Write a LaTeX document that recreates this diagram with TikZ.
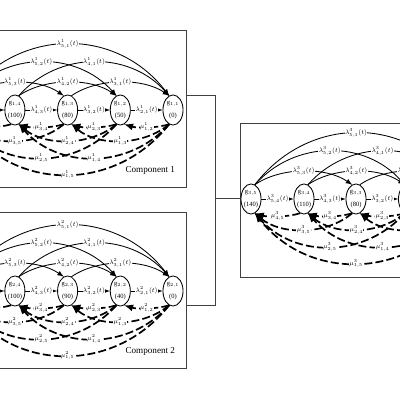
\documentclass[tikz,border=0pt]{standalone}
\usepackage{fontspec}
\setmainfont{Liberation Serif}
\usetikzlibrary{shapes.geometric}

\tikzset{
  state/.style={draw, ellipse, line width=0.6pt, minimum width=0.76cm, minimum height=1.14cm,
    inner sep=0pt, inner xsep=-1.5pt, align=center, scale=0.66, font=\fontsize{7}{8}\selectfont},
  lbl/.style={fill=white, inner sep=0.4pt, scale=0.66, font=\fontsize{7}{8}\selectfont},
  lam/.style={-latex, line width=0.6pt},
  mu/.style={-latex, line width=1.2pt, dash pattern=on 2mm off 0.8mm},
  box/.style={draw=black!75, line width=0.7pt},
}

\begin{document}
\begin{tikzpicture}[x=0.025cm, y=-0.025cm]
  \useasboundingbox (0,0) rectangle (400,400);
  \clip (0,0) rectangle (400,400);
  \fill[white] (0,0) rectangle (400,400);

  % component boxes and the links between them
  \draw[box] (-80,30) rectangle (186,187);
  \draw[box] (-80,212) rectangle (186,368);
  \draw[box] (240,123) rectangle (500,277);
  \coordinate (out1) at (186,95);
  \coordinate (out2) at (186,305);
  \coordinate (hub) at (215,198);
  \coordinate (in3) at (240,198);
  \draw[box] (out1) -| (hub);
  \draw[box] (out2) -| (hub);
  \draw[box] (hub) -- (in3);

  \node[anchor=base east, font=\fontsize{6.5}{8}\selectfont] (name1) at (180,172) {Component 1};
  \node[anchor=base east, font=\fontsize{6.5}{8}\selectfont] (name2) at (180,353) {Component 2};

  % component 1
  \node[state] (g15) at (-37.8,110) {g$_{1,5}$};
  \node[state] (g14) at (14.9,110) {g$_{1,4}$\\[5pt](100)};
  \node[state] (g13) at (67.6,110) {g$_{1,3}$\\[5pt](80)};
  \node[state] (g12) at (120.3,110) {g$_{1,2}$\\[5pt](50)};
  \node[state] (g11) at (173,110) {g$_{1,1}$\\[5pt](0)};
  % component 2
  \node[state] (g25) at (-37.8,291) {g$_{2,5}$};
  \node[state] (g24) at (14.9,291) {g$_{2,4}$\\[5pt](100)};
  \node[state] (g23) at (67.6,291) {g$_{2,3}$\\[5pt](90)};
  \node[state] (g22) at (120.3,291) {g$_{2,2}$\\[5pt](40)};
  \node[state] (g21) at (173,291) {g$_{2,1}$\\[5pt](0)};
  % component 3
  \node[state] (g35) at (251,199) {g$_{3,5}$\\[5pt](140)};
  \node[state] (g34) at (304,199) {g$_{3,4}$\\[5pt](110)};
  \node[state] (g33) at (356,199) {g$_{3,3}$\\[5pt](80)};
  \node[state] (g32) at (408.5,199) {g$_{3,2}$};
  \node[state] (g31) at (461,199) {g$_{3,1}$};

  % transitions
  \foreach \n in {1,2,3} {
    \foreach \i/\j in {5/4,4/3,3/2,2/1}
      \draw[lam] (g\n\i) -- node[lbl] {$\lambda^{\n}_{\i,\j}(t)$} (g\n\j);
    \foreach \i/\j/\h/\d in {5/1/69/53, 5/2/45/40, 4/1/45/40, 5/3/18/26, 4/2/18/26, 3/1/18/26}
      \draw[lam] (g\n\i.75) .. controls +(\d,-\h) and +(-\d,-\h) .. node[lbl] {$\lambda^{\n}_{\i,\j}(t)$} (g\n\j.105);
    \foreach \j/\i/\h/\d in {1/2/4/13, 2/3/4/13, 3/4/4/13, 4/5/4/13, 1/3/22/26, 2/4/22/26, 3/5/22/26, 1/4/45/40, 2/5/45/40, 1/5/67/53}
      \draw[mu] (g\n\j.255) .. controls +(-\d,\h) and +(\d,\h) .. node[lbl] {$\mu^{\n}_{\j,\i}$} (g\n\i.285);
  }
\end{tikzpicture}
\end{document}
